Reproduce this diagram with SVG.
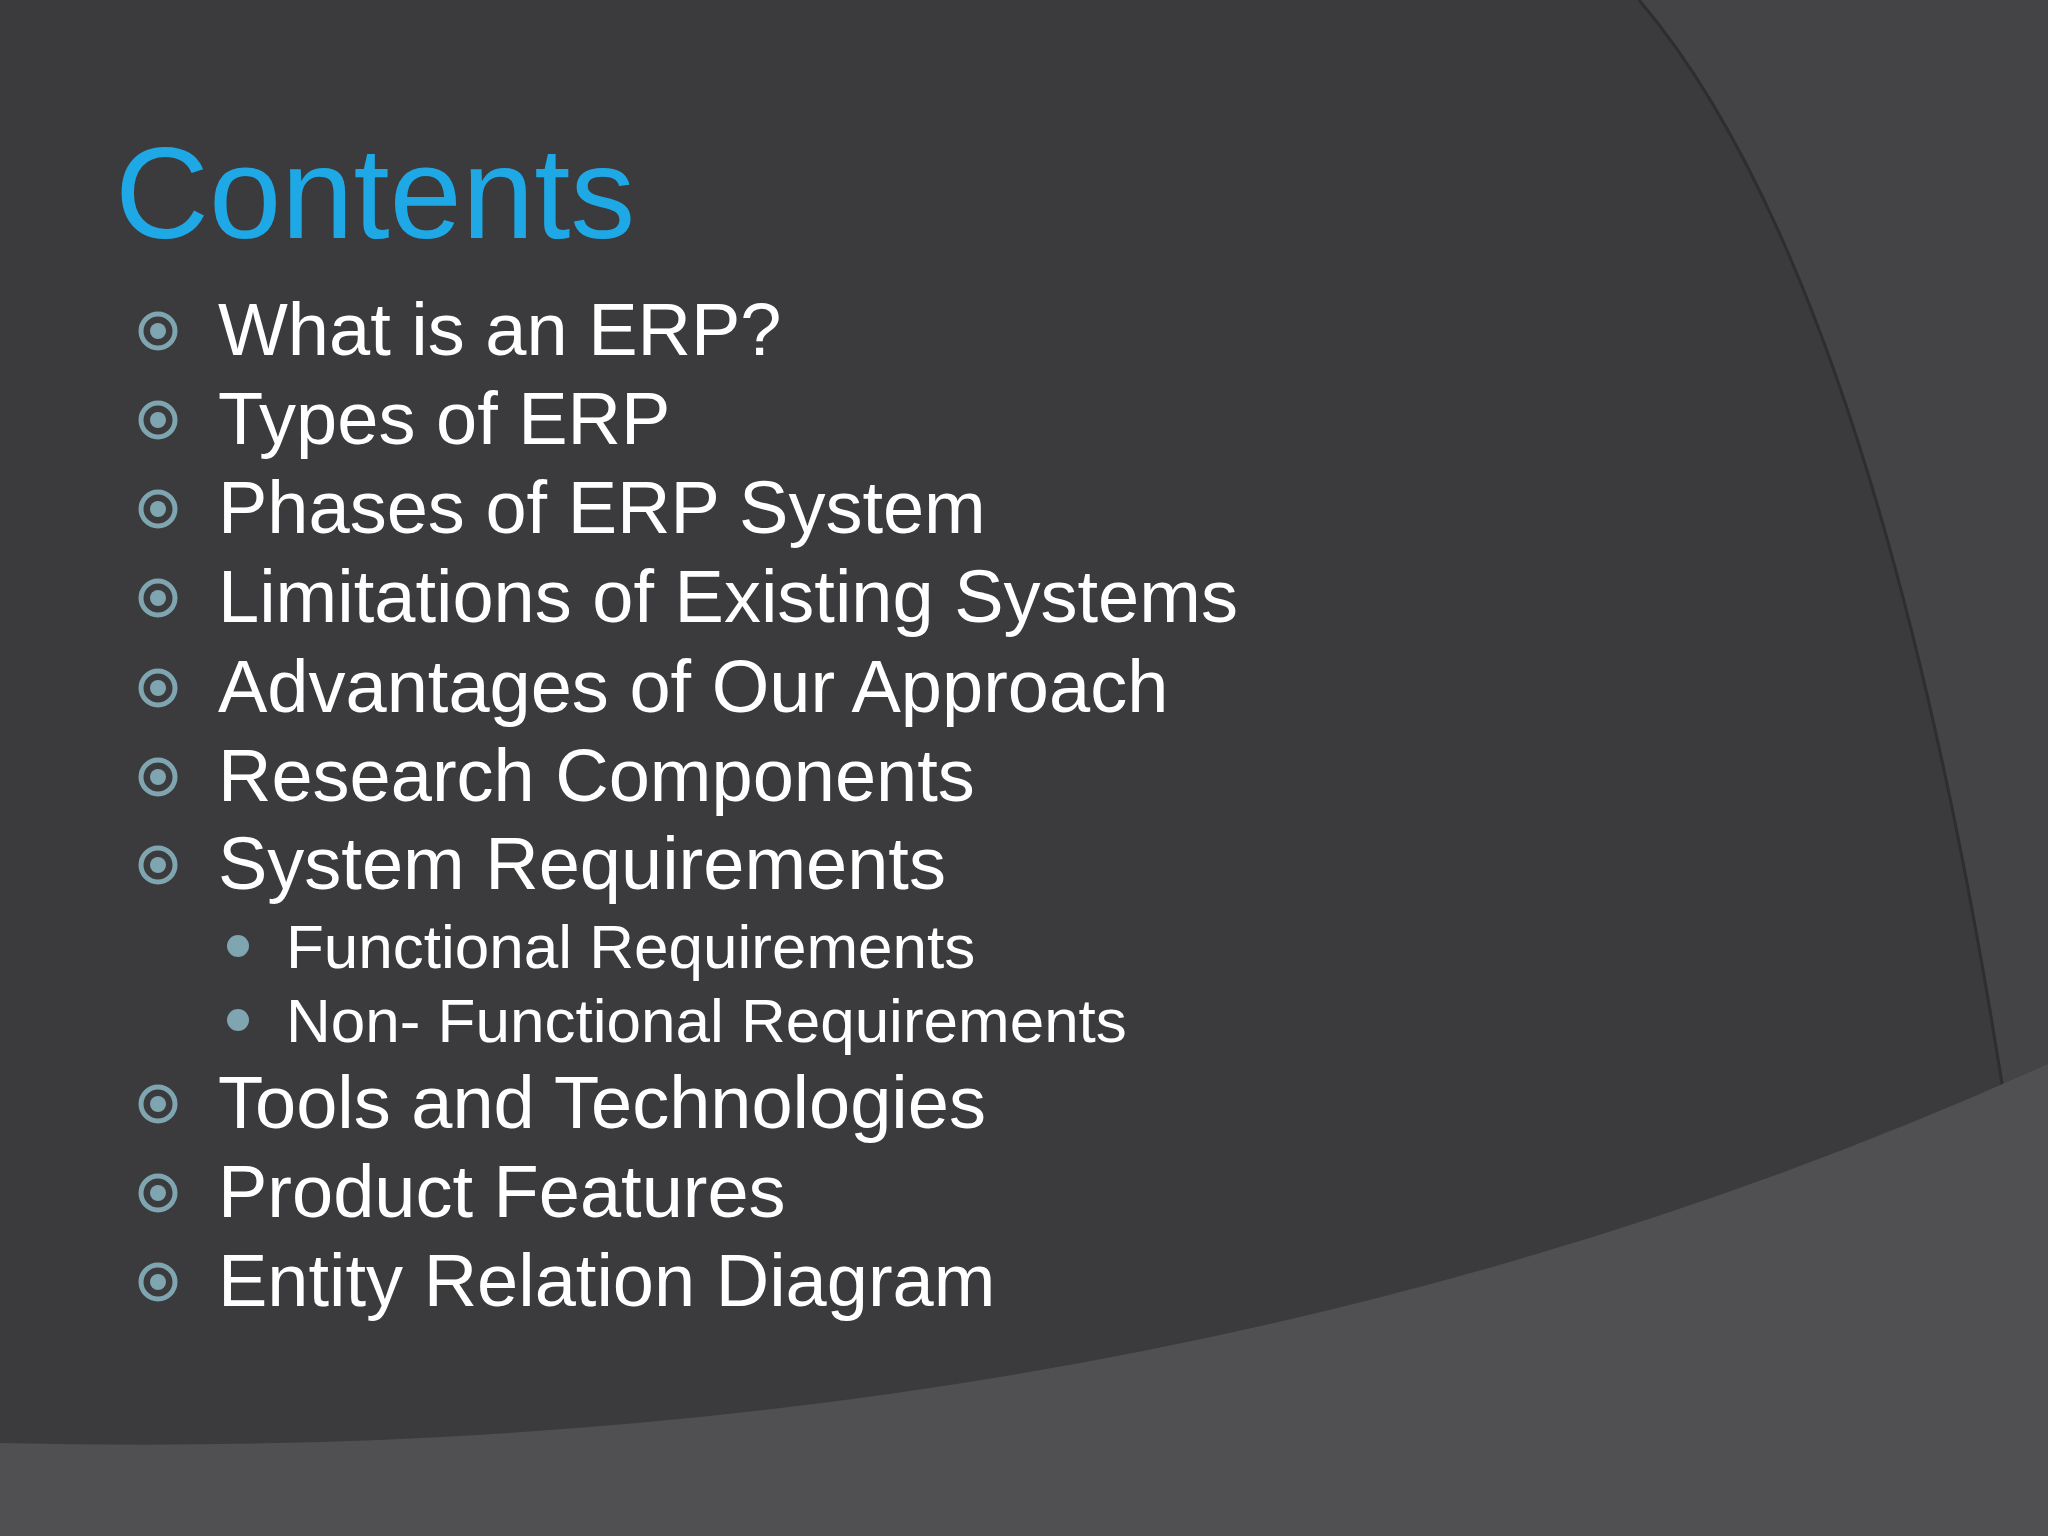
<svg xmlns="http://www.w3.org/2000/svg" width="2048" height="1536" viewBox="0 0 2048 1536">
<style>
.t{font-family:"Liberation Sans",Arial,sans-serif;fill:#ffffff}
.m{font-size:74px}
.s{font-size:62px}
.b{fill:none;stroke:#7fa5b0;stroke-width:5}
.bd{fill:#7fa5b0}
</style>
<rect width="2048" height="1536" fill="#3b3b3d"/>
<path d="M1639,0 Q1920,330 2048,1420 L2048,0 Z" fill="#444447"/>
<path d="M1639,0 Q1920,330 2048,1420" fill="none" stroke="#2e2e30" stroke-width="3"/>
<path d="M0,1443 Q1150,1470 2048,1064 L2048,1536 L0,1536 Z" fill="#505053"/>
<text x="115" y="238" font-family="Liberation Sans,Arial,sans-serif" font-size="130" fill="#1ea9e6">Contents</text>
<g id="items">
<g><circle class="b" cx="158" cy="331" r="17"/><circle class="bd" cx="158" cy="331" r="8"/><text class="t m" x="218" y="355">What is an ERP?</text></g>
<g><circle class="b" cx="158" cy="420" r="17"/><circle class="bd" cx="158" cy="420" r="8"/><text class="t m" x="218" y="444">Types of ERP</text></g>
<g><circle class="b" cx="158" cy="509" r="17"/><circle class="bd" cx="158" cy="509" r="8"/><text class="t m" x="218" y="533">Phases of ERP System</text></g>
<g><circle class="b" cx="158" cy="598" r="17"/><circle class="bd" cx="158" cy="598" r="8"/><text class="t m" x="218" y="622">Limitations of Existing Systems</text></g>
<g><circle class="b" cx="158" cy="688" r="17"/><circle class="bd" cx="158" cy="688" r="8"/><text class="t m" x="218" y="712">Advantages of Our Approach</text></g>
<g><circle class="b" cx="158" cy="777" r="17"/><circle class="bd" cx="158" cy="777" r="8"/><text class="t m" x="218" y="801">Research Components</text></g>
<g><circle class="b" cx="158" cy="865" r="17"/><circle class="bd" cx="158" cy="865" r="8"/><text class="t m" x="218" y="889">System Requirements</text></g>
<g><circle class="bd" cx="238" cy="946" r="11"/><text class="t s" x="286" y="968">Functional Requirements</text></g>
<g><circle class="bd" cx="238" cy="1020" r="11"/><text class="t s" x="286" y="1042">Non- Functional Requirements</text></g>
<g><circle class="b" cx="158" cy="1104" r="17"/><circle class="bd" cx="158" cy="1104" r="8"/><text class="t m" x="218" y="1128">Tools and Technologies</text></g>
<g><circle class="b" cx="158" cy="1193" r="17"/><circle class="bd" cx="158" cy="1193" r="8"/><text class="t m" x="218" y="1217">Product Features</text></g>
<g><circle class="b" cx="158" cy="1282" r="17"/><circle class="bd" cx="158" cy="1282" r="8"/><text class="t m" x="218" y="1306">Entity Relation Diagram</text></g>
</g>
</svg>
